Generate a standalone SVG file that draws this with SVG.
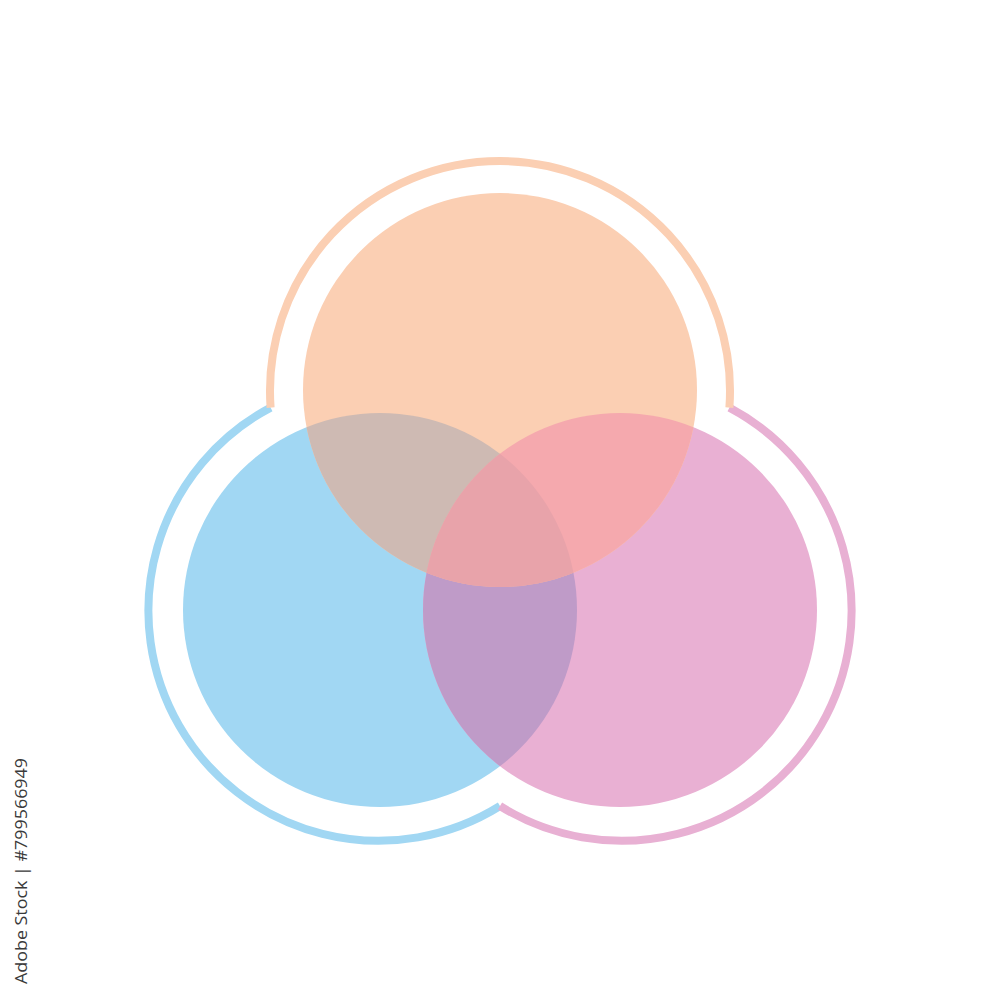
<svg xmlns="http://www.w3.org/2000/svg" width="1000" height="1000" viewBox="0 0 1000 1000">
  <style>
    .ring { fill: none; stroke-width: 8; stroke-linecap: butt; }
    .label { font-family: "Open Sans", "Liberation Sans", sans-serif; font-size: 16.5px; fill: #3a3a3a; }
  </style>
  <defs>
    <clipPath id="cO"><circle cx="500" cy="390" r="197"/></clipPath>
    <clipPath id="cB"><circle cx="380" cy="610" r="197"/></clipPath>
  </defs>
  <rect width="1000" height="1000" fill="#ffffff"/>

  <g id="outline">
    <path class="ring" stroke="#A1D7F3" d="M 270.6 407.6 A 230 230 0 1 0 500 806"/>
    <path class="ring" stroke="#E8B0D3" d="M 729.4 407.6 A 230 230 0 1 1 500 806"/>
    <path class="ring" stroke="#FBCFB3" d="M 270.6 407.6 A 230 230 0 1 1 729.4 407.6"/>
  </g>

  <g id="circle-blue">
    <circle cx="380" cy="610" r="197" fill="#A1D7F3"/>
  </g>
  <g id="circle-pink">
    <circle cx="620" cy="610" r="197" fill="#E9B0D3"/>
  </g>
  <g id="circle-orange">
    <circle cx="500" cy="390" r="197" fill="#FBCFB3"/>
  </g>

  <g id="overlaps">
    <g clip-path="url(#cB)"><circle cx="620" cy="610" r="197" fill="#BF9BC8"/></g>
    <g clip-path="url(#cO)"><circle cx="380" cy="610" r="197" fill="#CEBAB3"/></g>
    <g clip-path="url(#cO)"><circle cx="620" cy="610" r="197" fill="#F5A9AE"/></g>
    <g clip-path="url(#cO)"><g clip-path="url(#cB)"><circle cx="620" cy="610" r="197" fill="#E8A3AA"/></g></g>
  </g>

  <g id="credit">
    <text class="label" transform="translate(27,984) rotate(-90)" x="0" y="0" textLength="226" lengthAdjust="spacingAndGlyphs">Adobe Stock | #799566949</text>
  </g>
</svg>
